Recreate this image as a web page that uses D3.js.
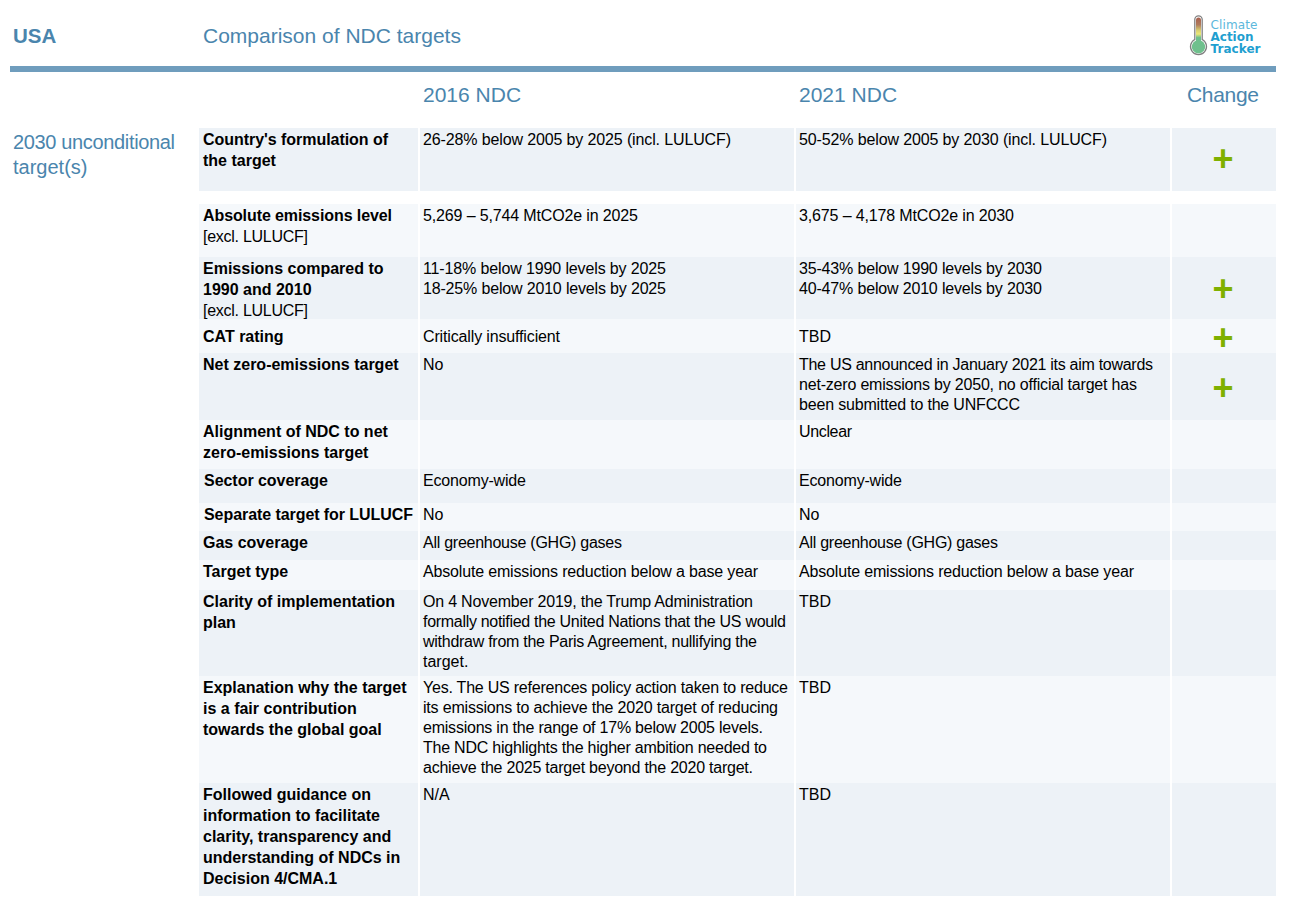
<!DOCTYPE html>
<html>
<head>
<meta charset="utf-8">
<script src="https://cdn.jsdelivr.net/npm/d3@7"></script>
<style>
  html, body { margin: 0; padding: 0; background: #fff; }
  svg { display: block; }
  text { font-family: "Liberation Sans", Arial, sans-serif; }
</style>
</head>
<body>
<svg id="chart" width="1290" height="920"></svg>
<script>
// table content
var country = 'USA';
var title = 'Comparison of NDC targets';
var columns = ['2016 NDC', '2021 NDC', 'Change'];
var section = ['2030 unconditional', 'target(s)'];
var labels = [
  ["Country's formulation of", 'the target'],
  ['Absolute emissions level'],
  ['Emissions compared to', '1990 and 2010'],
  ['CAT rating'],
  ['Net zero-emissions target'],
  ['Alignment of NDC to net', 'zero-emissions target'],
  ['Sector coverage'],
  ['Separate target for LULUCF'],
  ['Gas coverage'],
  ['Target type'],
  ['Clarity of implementation', 'plan'],
  ['Explanation why the target', 'is a fair contribution', 'towards the global goal'],
  ['Followed guidance on', 'information to facilitate', 'clarity, transparency and', 'understanding of NDCs in', 'Decision 4/CMA.1']
];
var labelNotes = [null, '[excl. LULUCF]', '[excl. LULUCF]', null, null, null, null, null, null, null, null, null, null];
var ndc2016 = [
  ['26-28% below 2005 by 2025 (incl. LULUCF)'],
  ['5,269 – 5,744 MtCO2e in 2025'],
  ['11-18% below 1990 levels by 2025', '18-25% below 2010 levels by 2025'],
  ['Critically insufficient'],
  ['No'],
  [],
  ['Economy-wide'],
  ['No'],
  ['All greenhouse (GHG) gases'],
  ['Absolute emissions reduction below a base year'],
  ['On 4 November 2019, the Trump Administration', 'formally notified the United Nations that the US would', 'withdraw from the Paris Agreement, nullifying the', 'target.'],
  ['Yes. The US references policy action taken to reduce', 'its emissions to achieve the 2020 target of reducing', 'emissions in the range of 17% below 2005 levels.', 'The NDC highlights the higher ambition needed to', 'achieve the 2025 target beyond the 2020 target.'],
  ['N/A']
];
var ndc2021 = [
  ['50-52% below 2005 by 2030 (incl. LULUCF)'],
  ['3,675 – 4,178 MtCO2e in 2030'],
  ['35-43% below 1990 levels by 2030', '40-47% below 2010 levels by 2030'],
  ['TBD'],
  ['The US announced in January 2021 its aim towards', 'net-zero emissions by 2050, no official target has', 'been submitted to the UNFCCC'],
  ['Unclear'],
  ['Economy-wide'],
  ['No'],
  ['All greenhouse (GHG) gases'],
  ['Absolute emissions reduction below a base year'],
  ['TBD'],
  ['TBD'],
  ['TBD']
];
var change = ['+', '', '+', '+', '+', '', '', '', '', '', '', '', ''];

// layout
var rowEdges = [[128,191],[204,257],[257,319],[319,353],[353,420],[420,469],[469,503],[503,531],[531,560],[560,590],[590,676],[676,783],[783,896]];
var rowFills = ['#edf2f7','#f5f8fb','#edf2f7','#f5f8fb','#edf2f7','#f5f8fb','#edf2f7','#f5f8fb','#edf2f7','#f5f8fb','#edf2f7','#f5f8fb','#edf2f7'];
var colEdges = [[199,418],[420,794],[796,1170],[1172,1276]];
var labelDx = [4,4,4,4,4,4,5,5,4,4,4,4,4];
var textDy = [17,17,17,23,17,17,17,17,17,17,17,17,17];
var plusDy = [-1,0,0,1,0.5,0,0,0,0,0,0,0,0];

// the reference font runs a little narrower than Liberation, so long lines are fitted
var fitWidths = {
  '2030 unconditional': 162,
  'Change': 72,
  '[excl. LULUCF]': 105,
  '26-28% below 2005 by 2025 (incl. LULUCF)': 308,
  '50-52% below 2005 by 2030 (incl. LULUCF)': 308,
  '5,269 – 5,744 MtCO2e in 2025': 215,
  '3,675 – 4,178 MtCO2e in 2030': 215,
  '11-18% below 1990 levels by 2025': 243,
  '18-25% below 2010 levels by 2025': 243,
  '35-43% below 1990 levels by 2030': 243,
  '40-47% below 2010 levels by 2030': 243,
  'Critically insufficient': 137,
  'Economy-wide': 103,
  'All greenhouse (GHG) gases': 199,
  'Absolute emissions reduction below a base year': 335,
  'On 4 November 2019, the Trump Administration': 330,
  'formally notified the United Nations that the US would': 363,
  'withdraw from the Paris Agreement, nullifying the': 334,
  'Yes. The US references policy action taken to reduce': 365,
  'its emissions to achieve the 2020 target of reducing': 355,
  'emissions in the range of 17% below 2005 levels.': 340,
  'The NDC highlights the higher ambition needed to': 344,
  'achieve the 2025 target beyond the 2020 target.': 330,
  'The US announced in January 2021 its aim towards': 354,
  'net-zero emissions by 2050, no official target has': 338,
  'been submitted to the UNFCCC': 221,
  'Unclear': 53,
  "Country's formulation of": 185,
  'Absolute emissions level': 189,
  'Separate target for LULUCF': 209,
  'Sector coverage': 124
};

var blue = '#4a85ad';
var svg = d3.select('#chart');

function fit(sel) {
  sel.each(function (d) {
    var t = d3.select(this).text();
    if (fitWidths[t]) d3.select(this).attr('textLength', fitWidths[t]).attr('lengthAdjust', 'spacing');
  });
  return sel;
}

function addLines(g, lines, x, y, step, opts) {
  g.selectAll(null).data(lines).enter().append('text')
    .attr('x', x)
    .attr('y', (d, i) => y + i * step)
    .attr('font-size', opts.size || 16)
    .attr('font-weight', opts.weight || 'normal')
    .attr('fill', opts.fill || '#000')
    .text(d => d)
    .call(fit);
}

// header
svg.append('text').attr('x', 13).attr('y', 43).attr('font-size', 20.5).attr('font-weight', 'bold').attr('fill', blue).text(country);
svg.append('text').attr('x', 203).attr('y', 43).attr('font-size', 21).attr('fill', blue).text(title);
svg.append('rect').attr('x', 10).attr('y', 66).attr('width', 1266).attr('height', 6).attr('fill', '#6f9dbd');

svg.selectAll('.col').data(columns).enter().append('text')
  .attr('class', 'col')
  .attr('x', (d, i) => [423, 799, 1187][i])
  .attr('y', 102)
  .attr('font-size', 21)
  .attr('fill', blue)
  .text(d => d)
  .call(fit);

addLines(svg.append('g'), section, 13, 149, 25, { size: 20, fill: blue });

// logo: thermometer and wordmark
var logo = svg.append('g');
var grad = svg.append('defs').append('linearGradient')
  .attr('id', 'thermo').attr('x1', 0).attr('x2', 0).attr('y1', 0).attr('y2', 1);
[[0, '#a8604f'], [0.2, '#b07a5c'], [0.36, '#d8d070'], [0.46, '#eee878'], [0.56, '#6fc08d'], [1, '#6fc08d']].forEach(function (s) {
  grad.append('stop').attr('offset', s[0]).attr('stop-color', s[1]);
});
logo.append('path')
  .attr('d', 'M1194.8 19.5 a3.7 3.7 0 0 1 7.4 0 V39.5 a8 8 0 1 1 -7.4 0 Z')
  .attr('fill', '#fff').attr('stroke', '#808080').attr('stroke-width', 1.3);
logo.append('path')
  .attr('d', 'M1196 20 a2.5 2.5 0 0 1 5 0 V40.5 a6.7 6.7 0 1 1 -5 0 Z')
  .attr('fill', 'url(#thermo)');
[['Climate', 29, 'normal', '#5cb8dc', 47], ['Action', 41, 'bold', '#1f9fd0', 43], ['Tracker', 53, 'bold', '#1f9fd0', 50]].forEach(function (w) {
  logo.append('text').attr('x', 1210.5).attr('y', w[1])
    .style('font-family', '"DejaVu Sans"').attr('font-size', 12)
    .attr('font-weight', w[2]).attr('fill', w[3])
    .attr('textLength', w[4]).text(w[0]);
});

// rows
labels.forEach(function (label, i) {
  var top = rowEdges[i][0], bottom = rowEdges[i][1];
  var row = svg.append('g');
  row.selectAll('rect').data(colEdges).enter().append('rect')
    .attr('x', d => d[0])
    .attr('y', top)
    .attr('width', d => d[1] - d[0])
    .attr('height', bottom - top)
    .attr('fill', rowFills[i]);

  var y = top + textDy[i];
  addLines(row.append('g'), label, colEdges[0][0] + labelDx[i], y, 21, { weight: 'bold' });
  if (labelNotes[i]) {
    addLines(row.append('g'), [labelNotes[i]], 203, y + label.length * 21, 21, {});
  }
  addLines(row.append('g'), ndc2016[i], 423, y, 20, {});
  addLines(row.append('g'), ndc2021[i], 799, y, 20, {});

  if (change[i]) {
    row.append('text').attr('x', 1223).attr('y', (top + bottom) / 2 + 12.5 + plusDy[i])
      .attr('text-anchor', 'middle').attr('font-size', 36).attr('font-weight', 'bold')
      .attr('fill', '#7fb000').text(change[i]);
  }
});
</script>
</body>
</html>
